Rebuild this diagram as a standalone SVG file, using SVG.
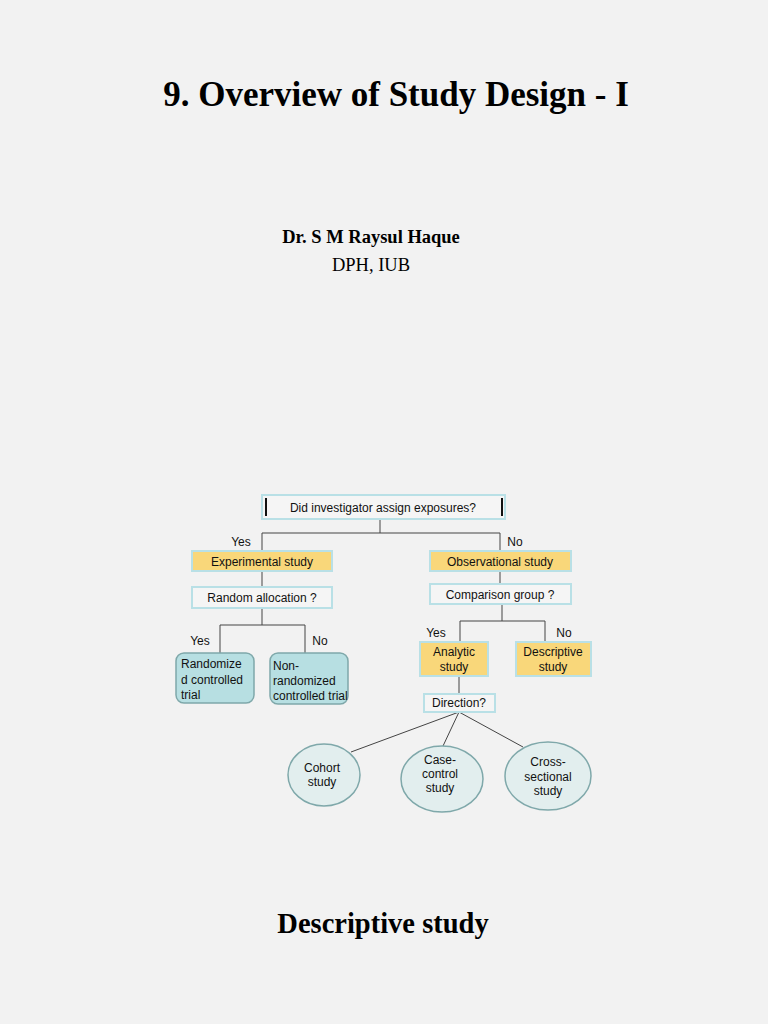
<svg xmlns="http://www.w3.org/2000/svg" width="768" height="1024" viewBox="0 0 768 1024">
<style>
.t{font-family:"Liberation Serif",serif;fill:#000}
.s{font-family:"Liberation Sans",Arial,sans-serif;font-size:12px;fill:#111}
.yb{fill:#f9d77a;stroke:#b9e0e6;stroke-width:2}
.wb{fill:#f5f5f5;stroke:#b9e0e6;stroke-width:2}
.tb{fill:#b7dfe2;stroke:#7fa8aa;stroke-width:1.5}
.el{fill:#e2eeee;stroke:#7fa8aa;stroke-width:1.5}
.c{stroke:#444;stroke-width:1;fill:none}
</style>
<rect width="768" height="1024" fill="#f2f2f2"/>
<text class="t" x="396" y="106" font-size="35" font-weight="bold" text-anchor="middle">9. Overview of Study Design - I</text>
<text class="t" x="371" y="243" font-size="18.5" font-weight="bold" text-anchor="middle">Dr. S M Raysul Haque</text>
<text class="t" x="371" y="271" font-size="18.5" text-anchor="middle">DPH, IUB</text>
<text class="t" x="383" y="933" font-size="28.5" font-weight="bold" text-anchor="middle">Descriptive study</text>
<g id="connectors">
<path class="c" d="M380 519V533M262 533H500M262 533V551M500 533V551"/>
<path class="c" d="M262 571V587M262 608V625M220 625H305M220 625V653M305 625V653"/>
<path class="c" d="M500 571V584M502 604V621M460 621H545M460 621V642M545 621V642"/>
<path class="c" d="M459 676V694M459 712L351 752M459 712L443 746M459 712L523 747"/>
</g>
<g id="q1"><rect x="262" y="495" width="243" height="24" class="wb"/><path d="M266 498V516M502 498V516" stroke="#111" stroke-width="2"/><text class="s" x="383" y="512" font-size="13" text-anchor="middle">Did investigator assign exposures?</text></g>
<text class="s" x="241" y="546" font-size="11" text-anchor="middle">Yes</text>
<text class="s" x="515" y="546" font-size="11" text-anchor="middle">No</text>
<g id="exp"><rect x="192" y="551" width="140" height="20" class="yb"/><text class="s" x="262" y="566" text-anchor="middle">Experimental study</text></g>
<g id="obs"><rect x="430" y="551" width="141" height="20" class="yb"/><text class="s" x="500" y="566" text-anchor="middle">Observational study</text></g>
<g id="rand"><rect x="192" y="587" width="140" height="21" class="wb"/><text class="s" x="262" y="602" text-anchor="middle">Random allocation ?</text></g>
<g id="comp"><rect x="430" y="584" width="141" height="20" class="wb"/><text class="s" x="500" y="599" text-anchor="middle">Comparison group ?</text></g>
<text class="s" x="200" y="645" font-size="11" text-anchor="middle">Yes</text>
<text class="s" x="320" y="645" font-size="11" text-anchor="middle">No</text>
<text class="s" x="436" y="637" font-size="11" text-anchor="middle">Yes</text>
<text class="s" x="564" y="637" font-size="11" text-anchor="middle">No</text>
<g id="rct"><rect x="176" y="653" width="78" height="50" rx="8" class="tb"/><text class="s" x="181" y="668">Randomize</text><text class="s" x="181" y="684">d controlled</text><text class="s" x="181" y="699">trial</text></g>
<g id="nrct"><rect x="270" y="653" width="78" height="51" rx="8" class="tb"/><text class="s" x="273" y="670">Non-</text><text class="s" x="273" y="685">randomized</text><text class="s" x="273" y="700">controlled trial</text></g>
<g id="ana"><rect x="420" y="642" width="68" height="34" class="yb"/><text class="s" x="454" y="656" text-anchor="middle">Analytic</text><text class="s" x="454" y="671" text-anchor="middle">study</text></g>
<g id="desc"><rect x="516" y="642" width="75" height="34" class="yb"/><text class="s" x="553" y="656" text-anchor="middle">Descriptive</text><text class="s" x="553" y="671" text-anchor="middle">study</text></g>
<g id="dir"><rect x="424" y="694" width="71" height="18" class="wb"/><text class="s" x="459" y="707" font-size="11" text-anchor="middle">Direction?</text></g>
<g id="cohort"><ellipse cx="324" cy="775" rx="36" ry="31" class="el"/><text class="s" x="322" y="772" text-anchor="middle" fill="#555">Cohort</text><text class="s" x="322" y="786" text-anchor="middle" fill="#555">study</text></g>
<g id="cc"><ellipse cx="442" cy="779" rx="41" ry="33" class="el"/><text class="s" x="440" y="764" text-anchor="middle" fill="#555">Case-</text><text class="s" x="440" y="778" text-anchor="middle" fill="#555">control</text><text class="s" x="440" y="792" text-anchor="middle" fill="#555">study</text></g>
<g id="cs"><ellipse cx="548" cy="776" rx="43" ry="34" class="el"/><text class="s" x="548" y="766" text-anchor="middle">Cross-</text><text class="s" x="548" y="781" text-anchor="middle">sectional</text><text class="s" x="548" y="795" text-anchor="middle">study</text></g>
</svg>
